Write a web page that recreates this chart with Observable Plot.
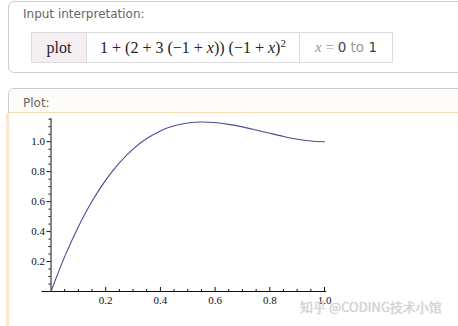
<!DOCTYPE html>
<html>
<head>
<meta charset="utf-8">
<script src="https://cdn.jsdelivr.net/npm/d3@7"></script>
<script src="https://cdn.jsdelivr.net/npm/@observablehq/plot@0.6"></script>
<style>
  html, body { margin: 0; padding: 0; background: #fff; }
  body { width: 458px; height: 326px; overflow: hidden; position: relative; font-family: "DejaVu Sans", sans-serif; }
  .panel { position: absolute; border: 1px solid #cfcfcf; border-radius: 6px; background: #fff; }
  .hdr { position: absolute; left: 23px; font-size: 12px; color: #666; white-space: nowrap; }
  table.interp { position: absolute; left: 31px; top: 32px; border-collapse: collapse; height: 31px; }
  table.interp td { border: 1px solid #dcdcdc; padding: 0; text-align: center; vertical-align: middle; white-space: nowrap; }
  .serif { font-family: "Liberation Serif", "Times New Roman", serif; font-size: 16px; color: #222; }
  #chart { position: absolute; left: 10px; top: 113px; }
  #chart text { font-family: "Liberation Serif", "Times New Roman", serif; font-size: 11px; }
  #wm { position: absolute; left: 300px; top: 297px; font-family: "Noto Sans CJK SC", sans-serif; font-size: 13px; color: rgba(212,212,212,0.95); white-space: nowrap; text-shadow: 0 0 1px rgba(140,140,140,0.45); }
</style>
</head>
<body>
<div class="panel" style="left:8px; top:1px; width:470px; height:70px;"></div>
<div class="hdr" style="top:7px;">Input interpretation:</div>
<table class="interp">
  <tr>
    <td class="serif" style="width:54px; background:#f5eff3;">plot</td>
    <td class="serif" style="width:212px;">1 + (2 + 3 (−1 + <i>x</i>)) (−1 + <i>x</i>)<sup style="font-size:11px; vertical-align: 6px; line-height:0;">2</sup></td>
    <td style="width:92px; font-size:13.5px; color:#9a9a9a;"><span class="serif" style="color:#9a9a9a; font-size:15px;"><i>x</i> = </span><span style="color:#444;">0</span> to <span style="color:#444;">1</span></td>
  </tr>
</table>
<div class="panel" style="left:8px; top:88px; width:470px; height:260px;"></div>
<div style="position:absolute; left:9px; top:89px; width:460px; height:23px; background:#fefcf9; border-top-left-radius:5px;"></div>
<div class="hdr" style="top:96px;">Plot:</div>
<div style="position:absolute; left:8px; top:112px; width:460px; height:1px; background:#f7dcb5;"></div>
<div style="position:absolute; left:6px; top:113px; width:3px; height:220px; background:#fce6d2;"></div>
<div id="chart"></div>
<div id="wm">知乎 @CODING技术小馆</div>
<script>
const xs = [0, 0.05, 0.1, 0.15, 0.2, 0.25, 0.3, 0.35, 0.4, 0.45, 0.5, 0.55, 0.6, 0.65, 0.7, 0.75, 0.8, 0.85, 0.9, 0.95, 1.0];
const ys = [0, 0.233, 0.433, 0.603, 0.744, 0.859, 0.951, 1.021, 1.072, 1.106, 1.125, 1.132, 1.128, 1.116, 1.099, 1.078, 1.056, 1.035, 1.017, 1.005, 1.0];
const xMajor = [0.2, 0.4, 0.6, 0.8, 1.0];
const xMinor = [0.05, 0.1, 0.15, 0.25, 0.3, 0.35, 0.45, 0.5, 0.55, 0.65, 0.7, 0.75, 0.85, 0.9, 0.95];
const yMajor = [0.2, 0.4, 0.6, 0.8, 1.0];
const yMinor = [0.05, 0.1, 0.15, 0.25, 0.3, 0.35, 0.45, 0.5, 0.55, 0.65, 0.7, 0.75, 0.85, 0.9, 0.95, 1.05, 1.1, 1.15];
const yTop = 1.155;
const xLeft = -0.033, xRight = 1.008;

const data = xs.map((x, i) => ({x, y: ys[i]}));
const font = "Liberation Serif, Times New Roman, serif";

const chart = Plot.plot({
  width: 448,
  height: 213,
  marginLeft: 40.5,
  marginRight: 134,
  marginTop: 5,
  marginBottom: 35,
  style: {background: "transparent", fontFamily: font, fontSize: "11px", color: "#111", overflow: "visible"},
  x: {domain: [0, 1]},
  y: {domain: [0, yTop]},
  marks: [
    Plot.ruleY([0], {x1: xLeft, x2: xRight, stroke: "#111"}),
    Plot.ruleX([0], {y1: 0, y2: yTop, stroke: "#111"}),
    Plot.axisX({ticks: xMinor, tickSize: 2, dy: -2, text: null, label: null, stroke: "#111"}),
    Plot.axisX({ticks: xMajor, tickSize: 4, dy: -4, text: null, label: null, stroke: "#111"}),
    Plot.axisX({ticks: xMajor, tickSize: 0, tickPadding: 5, label: null, tickFormat: d3.format(".1f"), fill: "#111", fontFamily: font, fontSize: 11}),
    Plot.axisY({ticks: yMinor, tickSize: 2, text: null, label: null, stroke: "#111"}),
    Plot.axisY({ticks: yMajor, tickSize: 4, tickPadding: 2, label: null, tickFormat: d3.format(".1f"), stroke: "#111", fill: "#111", fontFamily: font, fontSize: 11}),
    Plot.line(data, {x: "x", y: "y", stroke: "#4b4b9a", strokeWidth: 1.1, curve: "catmull-rom"})
  ]
});
document.getElementById("chart").appendChild(chart);
</script>
</body>
</html>
